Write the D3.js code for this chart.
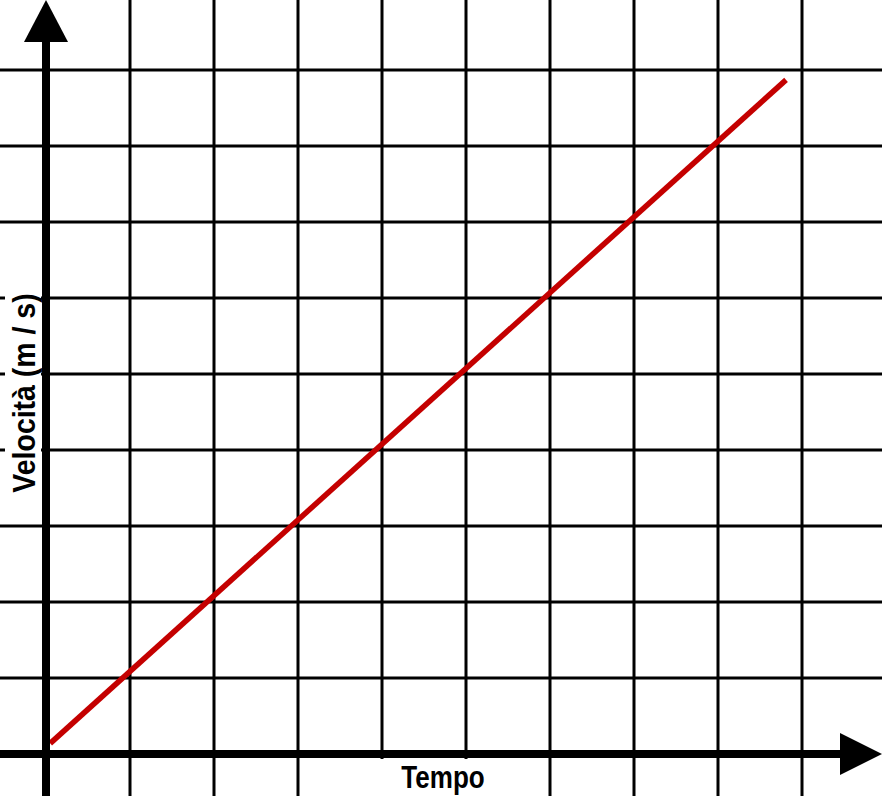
<!DOCTYPE html>
<html><head><meta charset="utf-8">
<script src="https://cdn.jsdelivr.net/npm/d3@7"></script>
<style>html,body{margin:0;padding:0;background:#fff;overflow:hidden}</style>
</head><body>
<script>
const xGridTicks = [1,2,3,4,5,6,7,8,9];
const yGridTicks = [1,2,3,4,5,6,7,8,9];
const lineTime = [0.05, 8.81];
const lineVelocity = [0.14, 8.87];
const xLabel = "Tempo";
const yLabel = "Velocità (m / s)";

const W = 882, H = 796;
const svg = d3.select("body").append("svg").attr("width", W).attr("height", H);
svg.append("rect").attr("width", W).attr("height", H).attr("fill", "#fff");

const x = d3.scaleLinear().domain([0, 10]).range([46, 886]);
const y = d3.scaleLinear().domain([0, 10]).range([754, -6]);
const font = "'Liberation Sans', Arial, sans-serif";

// grid
svg.append("g").selectAll("line").data(xGridTicks).join("line")
  .attr("x1", d => x(d)).attr("x2", d => x(d)).attr("y1", 0).attr("y2", H)
  .attr("stroke", "#000").attr("stroke-width", 3);
svg.append("g").selectAll("line").data(yGridTicks).join("line")
  .attr("y1", d => y(d)).attr("y2", d => y(d)).attr("x1", 0).attr("x2", W)
  .attr("stroke", "#000").attr("stroke-width", 3);

// label backgrounds
svg.append("rect").attr("x", 5).attr("y", 288).attr("width", 36).attr("height", 215).attr("fill", "#fff");
svg.append("rect").attr("x", 372).attr("y", 759).attr("width", 128).attr("height", 40).attr("fill", "#fff");

// data line
const line = d3.line().x(d => x(d[0])).y(d => y(d[1]));
svg.append("path").datum(lineTime.map((t, i) => [t, lineVelocity[i]]))
  .attr("d", line).attr("fill", "none").attr("stroke", "#c40000").attr("stroke-width", 5.5);

// axes
svg.append("line").attr("x1", x(0)).attr("x2", x(0)).attr("y1", H).attr("y2", 40)
  .attr("stroke", "#000").attr("stroke-width", 8);
svg.append("path").attr("d", `M${x(0)},0 L${x(0)-22},42 L${x(0)+22},42 Z`).attr("fill", "#000");
svg.append("line").attr("x1", 0).attr("x2", 842).attr("y1", y(0)).attr("y2", y(0))
  .attr("stroke", "#000").attr("stroke-width", 8);
svg.append("path").attr("d", `M${W},${y(0)} L840,${y(0)-21} L840,${y(0)+21} Z`).attr("fill", "#000");

// labels
svg.append("text").attr("transform", "translate(443,788) scale(0.84,1)").attr("text-anchor", "middle")
  .attr("font-family", font).attr("font-weight", "bold").attr("font-size", 31)
  .attr("fill", "#000").text(xLabel);
svg.append("text").attr("transform", "translate(35,393) rotate(-90) scale(0.89,1)").attr("text-anchor", "middle")
  .attr("font-family", font).attr("font-weight", "bold").attr("font-size", 32)
  .attr("fill", "#000").text(yLabel);
</script>
</body></html>
